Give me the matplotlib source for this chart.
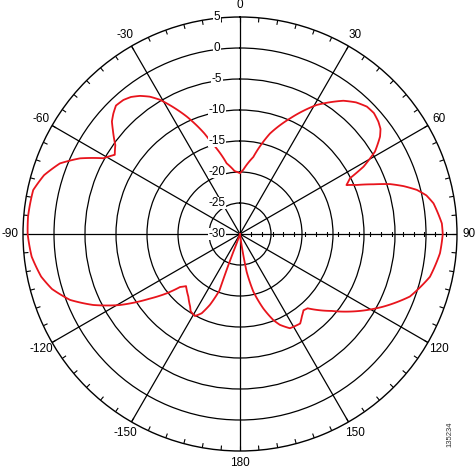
import numpy as np
import matplotlib
matplotlib.use("Agg")
import matplotlib.pyplot as plt
from matplotlib.transforms import offset_copy

# antenna pattern, path order (deg clockwise from top, dB)
angle_deg = [
    173, -161, -159.5, -159.5, -160, -157, -154.2, -151.2, -147.5, -145.5,
    -140.5, -136, -134, -131.5, -129, -125.5, -120.6, -115.8, -111.2,
    -106.3, -102.1, -96.2, -90, -85.3, -78, -73.3, -68.6, -64.7, -61,
    -57.7, -54.5, -50.7, -48.7, -46.4, -44, -41, -38.5, -35.9, -33.3,
    -30.8, -24.4, -19.5, -17.7, -10.7, -5, 0, 3, 9.8, 14.4, 16.6, 23.4,
    30.7, 37.8, 41.4, 44.9, 47.9, 50.9, 53.2, 55.2, 58.6, 61.4, 63.1,
    65.3, 67.2, 69.6, 71.6, 73.7, 76, 78.3, 81, 87, 90, 95.5, 102.7,
    110.2, 116.9, 125.2, 130, 134.7, 137.7, 140.2, 143, 146.1, 152.1,
    156.3, 158.8, 162.6, 167, 170, 171.3, 173,
]
gain_db = [
    -30, -30, -27, -24.5, -20.3, -17.6, -15.8, -14.9, -15.2, -15.8,
    -16.9, -17.6, -17.9, -17.1, -14.8, -12.0, -7.5, -3.7, -0.6,
    1.6, 2.8, 3.8, 4.25, 4.3, 4.1, 3.0, 1.2, -1.45, -4.8,
    -6.1, -5.3, -3.5, -2.5, -1.8, -1.2, -1.35, -1.76, -2.5, -3.5,
    -4.8, -9.2, -12.8, -14.3, -18.4, -19.8, -20.2, -19.6, -17.4, -14.5, -13.1, -9.7,
    -5.8, -2.8, -1.7, -1.0, -0.9, -1.25, -1.7, -2.5, -4.5, -7.3, -10.1,
    -11.1, -9.6, -7.0, -4.5, -2.5, -0.6, 0.7, 1.6, 2.6, 2.7, 2.4, 1.4,
    -0.8, -4.1, -8.3, -10.7, -12.6, -13.8, -14.0, -13.4, -12.6, -12.8,
    -14.0, -15.1, -17.4, -20.5, -23.8, -27.1, -30,
]

r_min, r_max = -30, 5
ring_values = [-25, -20, -15, -10, -5, 0]
ring_labels = [-30, -25, -20, -15, -10, -5, 0, 5]
spoke_deg = list(range(0, 360, 30))
spoke_labels = ["0", "30", "60", "90", "120", "150", "180",
                "-150", "-120", "-90", "-60", "-30"]
edge_tick_deg = list(range(0, 360, 5))

plt.rcParams["font.family"] = ["Liberation Sans", "DejaVu Sans"]

fig = plt.figure(figsize=(4.75, 4.68), dpi=100)
ax = fig.add_axes([23 / 475, 17 / 468, 434 / 475, 434 / 468], projection="polar")
ax.set_theta_zero_location("N")
ax.set_theta_direction(-1)
ax.set_ylim(r_min, r_max)

ax.set_xticks(np.deg2rad(spoke_deg))
ax.set_xticklabels(spoke_labels, fontsize=8.5)
ax.tick_params(axis="x", which="major", length=0, pad=2)
ax.set_yticks(ring_values)
ax.set_yticklabels([])
ax.tick_params(axis="y", length=0)
ax.grid(True, color="black", linewidth=0.9)
ax.spines["polar"].set_color("black")
ax.spines["polar"].set_linewidth(1.0)

# inward ticks on the outer circle, every 5 deg
ax.vlines(np.deg2rad(edge_tick_deg), r_max - 0.75, r_max, color="black", linewidth=0.8)

# small ticks on the 90 spoke
tick_r = [r_min + k * 1.75 for k in range(1, 20)]
ax.plot(np.full(len(tick_r), np.pi / 2), tick_r, linestyle="none",
        marker="|", markersize=3, mew=0.8, color="black", zorder=3)

ln, = ax.plot(np.deg2rad(angle_deg), gain_db, color="#e8141c", linewidth=1.3, zorder=4)
# let the polar transform follow (theta, r) between points instead of chords
ln.get_path()._interpolation_steps = 30

lab_tr = offset_copy(ax.transData, fig=fig, x=-23, y=0, units="dots")
for v in ring_labels:
    ax.text(0, v, str(v), transform=lab_tr, ha="center", va="center",
            fontsize=8.5, zorder=5,
            bbox=dict(facecolor="white", edgecolor="none", pad=0.3))

fig.text(0.948, 0.073, "135234", rotation=90, fontsize=5.5,
         ha="center", va="center", color="#333333")

fig.savefig("out.png", dpi=100)
